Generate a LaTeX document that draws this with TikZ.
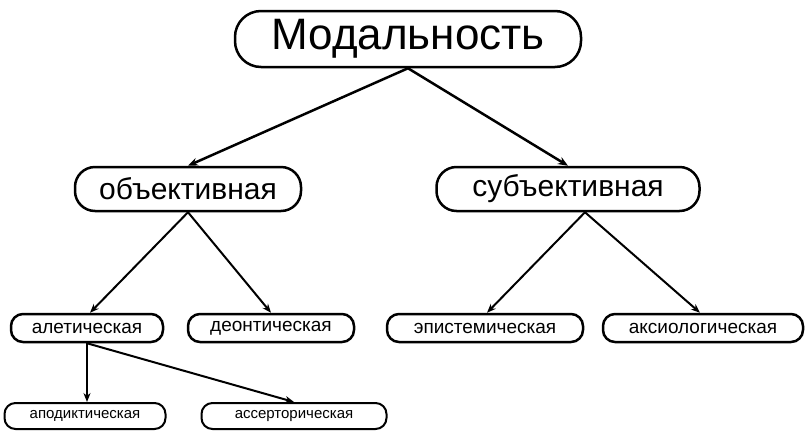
\documentclass[tikz,border=0pt]{standalone}
\usepackage{fontspec}
\setmainfont{Liberation Sans}
\usetikzlibrary{arrows.meta}
\begin{document}
\begin{tikzpicture}[x=1pt,y=-1pt,
 bx/.style={draw,line width=2.5pt,inner sep=0pt,anchor=center},
 ar/.style={-{Stealth[length=10pt,width=8pt]},line width=2.5pt},
 ar2/.style={-{Stealth[length=9pt,width=7pt]},line width=2pt}]
\useasboundingbox (0,0) rectangle (807,432);
\node[bx,minimum width=346,minimum height=56,rounded corners=26,font=\fontsize{44}{48}\selectfont] (m) at (408,39) {Модальность};
\node[bx,minimum width=226,minimum height=44,rounded corners=20,font=\fontsize{30}{34}\selectfont] (o) at (188,189) {объективная};
\node[bx,minimum width=263,minimum height=44,rounded corners=20,font=\fontsize{30}{34}\selectfont] (s) at (568,189) {субъективная};
\node[bx,minimum width=152,minimum height=28,rounded corners=12,font=\fontsize{19}{22}\selectfont] (a) at (87,328) {алетическая};
\node[bx,minimum width=166,minimum height=28,rounded corners=12,font=\fontsize{19}{22}\selectfont] (d) at (271,328) {деонтическая};
\node[bx,minimum width=196,minimum height=28,rounded corners=12,font=\fontsize{19}{22}\selectfont] (e) at (485,328) {эпистемическая};
\node[bx,minimum width=200,minimum height=28,rounded corners=12,font=\fontsize{19}{22}\selectfont] (x) at (703,328) {аксиологическая};
\node[bx,line width=2pt,minimum width=161,minimum height=26,rounded corners=11,font=\fontsize{15}{18}\selectfont] (p) at (85,416) {аподиктическая};
\node[bx,line width=2pt,minimum width=185,minimum height=26,rounded corners=11,font=\fontsize{15}{18}\selectfont] (r) at (294,416) {ассерторическая};
\draw[ar] (m.south) -- (o.north);
\draw[ar] (m.south) -- (s.north);
\draw[ar2] (o.south) -- ([xshift=3pt]a.north);
\draw[ar2] (o.south) -- (d.north);
\draw[ar2] ([xshift=17pt]s.south) -- ([xshift=2pt]e.north);
\draw[ar2] ([xshift=17pt]s.south) -- ([xshift=-3pt]x.north);
\draw[ar2] (a.south) -- ([xshift=2pt]p.north);
\draw[ar2] (a.south) -- (r.north);
\end{tikzpicture}
\end{document}
